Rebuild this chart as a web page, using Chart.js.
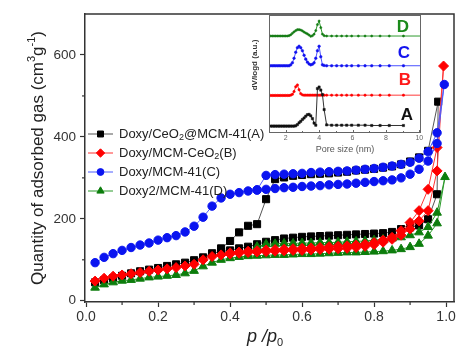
<!DOCTYPE html>
<html><head><meta charset="utf-8">
<script src="https://cdn.jsdelivr.net/npm/chart.js@4/dist/chart.umd.min.js"></script>
<style>
html,body{margin:0;padding:0;background:#fff;}
#wrap{position:relative;width:474px;height:362px;overflow:hidden;}
#main{position:absolute;left:0;top:0;}
#inset{position:absolute;left:245px;top:5px;}
</style></head><body>
<div id="wrap"><canvas id="main" width="474" height="362"></canvas><canvas id="inset" width="185" height="150"></canvas></div>
<script>
// ---------- main isotherm data ----------
const pAds = [0.025,0.05,0.075,0.1,0.125,0.15,0.175,0.2,0.225,0.25,0.275,0.3,0.325,0.35,0.375,0.4,0.425,0.45,0.475,0.5,0.525,0.55,0.575,0.6,0.625,0.65,0.675,0.7,0.725,0.75,0.775,0.8,0.825,0.85,0.875,0.9,0.925,0.95,0.975];
const pDes = [0.975,0.95,0.925,0.9,0.875,0.85,0.825,0.8,0.775,0.75,0.725,0.7,0.675,0.65,0.625,0.6,0.575,0.55,0.525,0.5,0.475,0.45,0.425,0.4,0.375];

const adsA = [45,50,55,61,67,72,76,80,85,89,93,99,106,116,120,123,128,132,138,144,148,152,154,156,157,158,159,160,161,162,163,164,165,168,175,179,184,199,260];
const topA = [0.978,486];
const desA = [null,366,350,340,333,328,325,322,320,318,315,313,311,310,309,307,305,301,297,248,187,183,167,146,128];

const adsB = [48,55,60,63,66,69,72,75,78,81,85,89,100,108,112,114,116,118,119,120,121,122,123,123,124,125,126,127,128,130,133,137,143,150,160,175,195,220,317];
const topB = [0.993,573];
const desB = [374,272,220,191,171,155,148,142,138,136,134,133,132,130,129,128,127,126,125,124,122,121,119,117];

const adsC = [93,106,115,123,130,136,141,148,154,159,168,182,204,231,251,260,264,268,270,272,274,276,277,279,280,281,283,284,285,287,289,291,293,295,300,309,321,341,384];
const topC = [0.995,528];
const desC = [410,364,348,338,333,329,326,323,321,319,317,316,315,314,313,311,310,309,308,306,271];

const adsD = [32,40,45,49,51,54,57,59,61,63,67,73,84,93,100,104,107,109,110,111,112,112,113,114,114,115,116,117,118,118,119,120,121,123,126,131,139,159,189];
const topD = [0.997,302];
const desD = [215,180,167,160,155,152,150,148,146,145,144,143,142,142,141,141,140,140,139,138,132,112];

const seriesNames = ['Doxy/CeO|2|@MCM-41(A)','Doxy/MCM-CeO|2|(B)','Doxy/MCM-41(C)','Doxy2/MCM-41(D)'];
const xTicks = [0,0.2,0.4,0.6,0.8,1.0];
const xMinor = [0.1,0.3,0.5,0.7,0.9];
const yTicks = [0,200,400,600];
const yMinor = [100,300,500];

// ---------- inset pore-size data ----------
const poreX = [1.1,1.2,1.3,1.4,1.5,1.6,1.7,1.8,1.9,2.0,2.1,2.2,2.3,2.4,2.5,2.6,2.7,2.8,2.9,3.0,3.1,3.2,3.3,3.4,3.5,3.6,3.7,3.8,3.9,4.0,4.1,4.2,4.3,4.45,4.75,5.05,5.35,5.65,5.95,6.35,6.75,7.15,7.65,8.2,9.05,10.5];
const psdA = [0,0,0,0,0,0,0,0,0,0,0,0,0,0,0,0.01,0.05,0.11,0.16,0.22,0.27,0.33,0.38,0.39,0.34,0.25,0.1,0.03,1.25,1.3,1.2,1.05,0.55,0.04,0.03,0.03,0.03,0.03,0.03,0.03,0.03,0.02,0.02,0.02,0.02,null];
const psdB = [0.01,0.01,0.01,0.01,0.01,0.01,0.01,0.01,0.01,0.01,0.01,0.01,0.02,0.05,0.14,0.3,0.36,0.2,0.07,0.03,0.02,0.02,0.02,0.02,0.02,0.02,0.02,0.02,0.02,0.02,0.02,0.02,0.02,0.02,0.02,0.02,0.02,0.02,0.02,0.02,0.02,0.02,0.02,0.02,0.02,0.02];
const psdC = [0,0,0,0,0,0,0,0,0,0,0,0,0.03,0.1,0.25,0.45,0.6,0.65,0.6,0.5,0.35,0.22,0.12,0.06,0.03,0.05,0.1,0.25,0.5,0.65,0.3,0.03,0.01,0,0,0,0,0,0,0,0,0,0,0,0,0];
const psdD = [0.02,0.02,0.02,0.02,0.02,0.02,0.02,0.02,0.02,0.02,0.02,0.03,0.06,0.11,0.16,0.2,0.23,0.23,0.22,0.19,0.15,0.12,0.09,0.05,0.01,0.03,0.08,0.2,0.4,0.52,0.3,0.08,0.03,0.02,0.02,0.02,0.02,0.02,0.02,0.02,0.02,0.02,0.02,0.02,0.02,0.02];
const psdOffset = [0.23,1.24,2.24,3.21];
const poreTicks = [2,4,6,8,10];
const poreMinor = [1,3,5,7,9];
const insetLetters = ['A','B','C','D'];

// ---------- styles ----------
const FONT = "'Liberation Sans', Arial, sans-serif";
const styles = [
  {line:'#555555', fill:'#000000', shape:'rect', r:5, order:3},
  {line:'#ff3333', fill:'#ff0000', shape:'rectRot', r:5, order:1},
  {line:'#4d5cff', fill:'#0a14f0', shape:'circle', r:4.2, order:0},
  {line:'#2b9a2b', fill:'#0c7d0c', shape:'triangle', r:5, order:2}
];

function buildIso(ads, top, des){
  const pts = [];
  pAds.forEach((p,i)=>{ if(ads[i]!=null) pts.push({x:p,y:ads[i]}); });
  pts.push({x:top[0],y:top[1]});
  pDes.forEach((p,i)=>{ if(des[i]!=null) pts.push({x:p,y:des[i]}); });
  return pts;
}
const isoData = [buildIso(adsA,topA,desA),buildIso(adsB,topB,desB),buildIso(adsC,topC,desC),buildIso(adsD,topD,desD)];

const mainSets = isoData.map((d,i)=>({
  label: seriesNames[i].replace(/\|/g,''),
  data: d, showLine:true,
  borderColor: styles[i].line, borderWidth:1,
  backgroundColor: styles[i].fill,
  pointBackgroundColor: styles[i].fill, pointBorderColor: styles[i].fill,
  pointBorderWidth:1, pointStyle: styles[i].shape, pointRadius: styles[i].r,
  order: styles[i].order, tension:0
}));

function drawRich(ctx, parts, x, y, align){
  let total = 0;
  parts.forEach(p=>{ ctx.font = (p.style||'') + ' ' + p.size + 'px ' + FONT; p.w = ctx.measureText(p.t).width; total += p.w; });
  let cx = align==='center' ? x - total/2 : x;
  parts.forEach(p=>{ ctx.font = (p.style||'') + ' ' + p.size + 'px ' + FONT; ctx.fillText(p.t, cx, y + (p.dy||0)); cx += p.w; });
}

const mainDecor = {
  id:'mainDecor',
  afterDraw(chart){
    const {ctx, chartArea:a, scales:{x,y}} = chart;
    ctx.save();
    ctx.strokeStyle = '#333'; ctx.lineWidth = 1.5;
    ctx.beginPath(); ctx.moveTo(a.left, a.top); ctx.lineTo(a.right, a.top); ctx.lineTo(a.right, a.bottom); ctx.stroke();
    ctx.lineWidth = 1.2;
    xMinor.forEach(v=>{ const px = x.getPixelForValue(v); ctx.beginPath(); ctx.moveTo(px, a.bottom); ctx.lineTo(px, a.bottom+3); ctx.stroke(); });
    yMinor.forEach(v=>{ const py = y.getPixelForValue(v); ctx.beginPath(); ctx.moveTo(a.left, py); ctx.lineTo(a.left-3, py); ctx.stroke(); });

    ctx.fillStyle = '#222'; ctx.textBaseline = 'middle'; ctx.textAlign = 'left';
    ctx.save(); ctx.translate(38, (a.top + a.bottom)/2); ctx.rotate(-Math.PI/2);
    drawRich(ctx, [
      {t:'Quantity of adsorbed gas (cm', size:17},
      {t:'3', size:11, dy:-6},
      {t:'g', size:17},
      {t:'-1', size:11, dy:-6},
      {t:')', size:17}], 0, 0, 'center');
    ctx.restore();

    ctx.textBaseline = 'alphabetic';
    drawRich(ctx, [
      {t:'p /p', size:18, style:'italic'},
      {t:'0', size:11, dy:4}], 265, 342, 'center');

    const rows = [134,153,172,191];
    ctx.textBaseline = 'middle';
    mainSets.forEach((ds,i)=>{
      const yy = rows[i];
      ctx.strokeStyle = ds.borderColor; ctx.lineWidth = 1;
      ctx.beginPath(); ctx.moveTo(88, yy); ctx.lineTo(113, yy); ctx.stroke();
      ctx.fillStyle = ds.pointBackgroundColor; ctx.strokeStyle = ds.pointBorderColor;
      if (Chart.helpers && Chart.helpers.drawPoint) {
        Chart.helpers.drawPoint(ctx, {pointStyle: ds.pointStyle, radius: ds.pointRadius - 0.8, rotation:0, borderWidth:1}, 100.5, yy);
      }
      ctx.fillStyle = '#222';
      const segs = seriesNames[i].split('|');
      const parts = segs.map((s,k)=> k%2===1 ? {t:s, size:9, dy:4} : {t:s, size:13});
      drawRich(ctx, parts, 119, yy, 'left');
    });
    ctx.restore();
  }
};

new Chart(document.getElementById('main'), {
  type:'scatter',
  data:{datasets: mainSets},
  options:{
    responsive:false, animation:false, devicePixelRatio:1,
    layout:{padding:{top:14, right:20, left:0, bottom:0}},
    plugins:{legend:{display:false}, tooltip:{enabled:false}},
    scales:{
      x:{type:'linear', min:-0.003, max:1.022,
        afterBuildTicks: s=>{ s.ticks = xTicks.map(v=>({value:v})); },
        afterFit: s=>{ s.height = 60; },
        ticks:{callback:v=>Number(v).toFixed(1), font:{family:FONT, size:14}, color:'#333', padding:2, maxRotation:0, autoSkip:false},
        grid:{drawOnChartArea:false, tickLength:5, color:'#333', tickWidth:1.2},
        border:{color:'#333', width:1.5}
      },
      y:{type:'linear', min:-3, max:700,
        afterBuildTicks: s=>{ s.ticks = yTicks.map(v=>({value:v})); },
        afterFit: s=>{ s.width = 85; },
        ticks:{callback:v=>String(v), font:{family:FONT, size:13.5}, color:'#333', padding:4, autoSkip:false},
        grid:{drawOnChartArea:false, tickLength:5, color:'#333', tickWidth:1.2},
        border:{color:'#333', width:1.5}
      }
    }
  },
  plugins:[mainDecor]
});

// ---------- inset ----------
const insetColors = [
  {line:'#333333', fill:'#111111', shape:'rect', r:1.6, text:'#111111'},
  {line:'#ff3b3b', fill:'#ff0000', shape:'circle', r:1.2, text:'#ff1a1a'},
  {line:'#4a52ff', fill:'#1010ee', shape:'circle', r:1.3, text:'#1414ee'},
  {line:'#2f9a2f', fill:'#127a12', shape:'circle', r:1.1, text:'#1a8a1a'}
];
const psdAll = [psdA, psdB, psdC, psdD];
const insetSets = psdAll.map((arr,i)=>({
  data: poreX.map((p,k)=> arr[k]==null ? null : {x:p, y:arr[k] + psdOffset[i]}).filter(v=>v),
  showLine:true, borderColor: insetColors[i].line, borderWidth:1,
  pointBackgroundColor: insetColors[i].fill, pointBorderColor: insetColors[i].fill,
  pointStyle: insetColors[i].shape, pointRadius: insetColors[i].r, pointBorderWidth:0.5
}));

const insetDecor = {
  id:'insetDecor',
  beforeDraw(chart){
    const {ctx, chartArea:a} = chart;
    ctx.save(); ctx.fillStyle = '#fff'; ctx.fillRect(a.left, a.top, a.right-a.left, a.bottom-a.top); ctx.restore();
  },
  afterDraw(chart){
    const {ctx, chartArea:a, scales:{x}} = chart;
    ctx.save();
    ctx.strokeStyle = '#666'; ctx.lineWidth = 1;
    ctx.strokeRect(a.left+0.5, a.top+0.5, a.right-a.left-1, a.bottom-a.top-1);
    poreTicks.forEach(v=>{ const px = Math.round(x.getPixelForValue(v))+0.5; ctx.beginPath(); ctx.moveTo(px, a.bottom); ctx.lineTo(px, a.bottom-3); ctx.stroke(); });
    poreMinor.forEach(v=>{ const px = Math.round(x.getPixelForValue(v))+0.5; ctx.beginPath(); ctx.moveTo(px, a.bottom); ctx.lineTo(px, a.bottom-2); ctx.stroke(); });
    ctx.fillStyle = '#333'; ctx.textAlign = 'center'; ctx.textBaseline = 'middle';
    ctx.save(); ctx.translate(10, 60); ctx.rotate(-Math.PI/2);
    ctx.font = 'bold 8px ' + FONT; ctx.fillText('dV/logd (a.u.)', 0, 0);
    ctx.restore();
    const pos = [[162,110],[160,75],[159,48],[158,22]];
    ctx.font = 'bold 17px ' + FONT;
    insetLetters.forEach((L,i)=>{ ctx.fillStyle = insetColors[i].text; ctx.fillText(L, pos[i][0], pos[i][1]); });
    ctx.restore();
  }
};

new Chart(document.getElementById('inset'), {
  type:'scatter',
  data:{datasets: insetSets},
  options:{
    responsive:false, animation:false, devicePixelRatio:1,
    layout:{padding:{top:10, right:9, left:24, bottom:0}},
    plugins:{legend:{display:false}, tooltip:{enabled:false}},
    scales:{
      x:{type:'linear', min:1, max:10.1,
        afterBuildTicks: s=>{ s.ticks = poreTicks.map(v=>({value:v})); },
        afterFit: s=>{ s.height = 22; },
        ticks:{font:{family:FONT, size:7}, color:'#666', padding:1, maxRotation:0, autoSkip:false},
        grid:{display:false, drawTicks:false},
        border:{display:false},
        title:{display:true, text:'Pore size (nm)', font:{family:FONT, size:9}, color:'#555', padding:0}
      },
      y:{type:'linear', min:0, max:3.93, display:false}
    }
  },
  plugins:[insetDecor]
});
</script>
</body></html>
